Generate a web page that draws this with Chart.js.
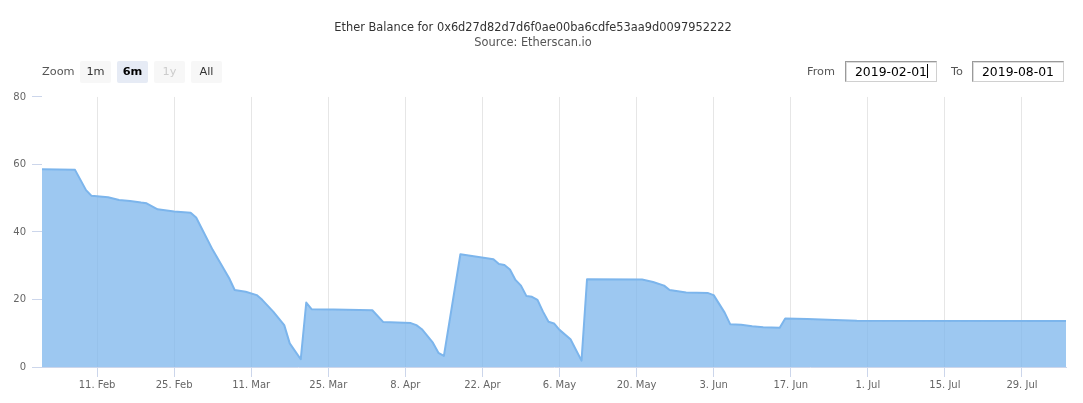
<!DOCTYPE html>
<html>
<head>
<meta charset="utf-8">
<script src="https://cdn.jsdelivr.net/npm/chart.js@4.4.1/dist/chart.umd.min.js"></script>
<style>
html,body{margin:0;padding:0;background:#fff;}
#wrap{position:relative;width:1083px;height:403px;overflow:hidden;font-family:"DejaVu Sans",Verdana,sans-serif;}
#c{position:absolute;left:0;top:0;}
.lbl{position:absolute;top:61px;height:22px;line-height:22px;font-size:11.3px;color:#555;}
.btn{position:absolute;top:61px;height:22px;width:31px;background:#f7f7f7;border-radius:2px;text-align:center;line-height:22px;font-size:11.3px;color:#333;}
.sel{background:#e6ebf5;color:#000;font-weight:bold;}
.dis{color:#ccc;}
.inp{position:absolute;top:61px;height:19px;width:90px;border:1px solid #9a9a9a;border-right-color:#d0d0d0;border-bottom-color:#d0d0d0;box-shadow:inset 1px 1px 0 #dcdcdc;background:#fff;text-align:center;line-height:19px;font-size:12.4px;color:#000;}
.caret{position:absolute;width:1px;height:14px;background:#000;}
</style>
</head>
<body>
<div id="wrap">
<canvas id="c" width="1083" height="403"></canvas>
<div class="lbl" style="left:42px;">Zoom</div>
<div class="btn" style="left:80px;">1m</div>
<div class="btn sel" style="left:117px;">6m</div>
<div class="btn dis" style="left:154px;">1y</div>
<div class="btn" style="left:191px;">All</div>
<div class="lbl" style="left:807px;">From</div>
<div class="inp" style="left:845px;">2019-02-01</div>
<div class="caret" style="left:927px;top:64px;"></div>
<div class="lbl" style="left:951px;">To</div>
<div class="inp" style="left:972px;">2019-08-01</div>
</div>
<script>
// ---- data ----
const startDate = "2019-02-01";
const dates = [
"2019-02-01","2019-02-07","2019-02-09","2019-02-10","2019-02-13","2019-02-15","2019-02-17","2019-02-19","2019-02-20","2019-02-22","2019-02-25","2019-02-28",
"2019-03-01","2019-03-04","2019-03-07","2019-03-08","2019-03-10","2019-03-12","2019-03-13","2019-03-15","2019-03-17","2019-03-18","2019-03-20","2019-03-21","2019-03-22","2019-03-26",
"2019-04-02","2019-04-04","2019-04-09","2019-04-10","2019-04-11","2019-04-13","2019-04-14","2019-04-15","2019-04-18","2019-04-24","2019-04-25","2019-04-26","2019-04-27","2019-04-28","2019-04-29","2019-04-30",
"2019-05-01","2019-05-02","2019-05-03","2019-05-04","2019-05-05","2019-05-06","2019-05-08","2019-05-10","2019-05-11","2019-05-21","2019-05-23","2019-05-25","2019-05-26","2019-05-29",
"2019-06-02","2019-06-03","2019-06-05","2019-06-06","2019-06-08","2019-06-10","2019-06-12","2019-06-15","2019-06-16","2019-06-20","2019-06-25","2019-06-29",
"2019-08-06"];
const balances = [
58.6,58.4,52.4,50.7,50.3,49.5,49.2,48.7,48.5,46.7,46.1,45.7,
44.3,34.7,26.3,22.8,22.3,21.3,19.9,16.4,12.4,7.0,2.3,19.1,17.1,17.0,
16.8,13.3,13.0,12.4,11.2,7.2,4.2,3.3,33.4,31.9,30.5,30.2,28.9,25.8,24.1,21.0,
20.8,19.9,16.4,13.4,12.9,11.0,8.2,1.9,26.0,25.9,25.2,24.1,22.8,22.1,
21.9,21.3,16.1,12.7,12.5,12.1,11.8,11.6,14.4,14.2,13.9,13.7,
13.6];
const tickDates = ["2019-02-11","2019-02-25","2019-03-11","2019-03-25","2019-04-08","2019-04-22","2019-05-06","2019-05-20","2019-06-03","2019-06-17","2019-07-01","2019-07-15","2019-07-29"];
const yTicks = [0,20,40,60,80];
const monthNames = ["Jan","Feb","Mar","Apr","May","Jun","Jul","Aug","Sep","Oct","Nov","Dec"];
const titleText = "Ether Balance for 0x6d27d82d7d6f0ae00ba6cdfe53aa9d0097952222";
const subtitleText = "Source: Etherscan.io";

// ---- helpers ----
const DAY = 86400000;
const t0 = Date.parse(startDate + "T00:00:00Z");
const toDay = s => (Date.parse(s + "T00:00:00Z") - t0) / DAY;
const fmt = v => { const d = new Date(t0 + v * DAY); return d.getUTCDate() + ". " + monthNames[d.getUTCMonth()]; };
const points = dates.map((d, i) => ({x: toDay(d), y: balances[i]}));
const tickDays = tickDates.map(toDay);
const FONT = "'DejaVu Sans', Verdana, sans-serif";

new Chart(document.getElementById('c'), {
  type: 'line',
  data: {
    datasets: [{
      data: points,
      borderColor: '#7cb5ec',
      backgroundColor: 'rgba(124,181,236,0.75)',
      borderWidth: 2,
      fill: 'origin',
      pointRadius: 0,
      tension: 0,
      borderJoinStyle: 'round'
    }]
  },
  options: {
    responsive: false,
    animation: false,
    events: [],
    layout: {padding: {left: 0, right: 17, top: 0, bottom: 0}},
    plugins: {
      legend: {display: false},
      tooltip: {enabled: false},
      title: {display: true, text: titleText, color: '#333333', font: {family: FONT, size: 11.4, weight: 'normal'}, padding: {top: 21.5, bottom: 0}},
      subtitle: {display: true, text: subtitleText, color: '#555555', font: {family: FONT, size: 11.4, weight: 'normal'}, padding: {top: 1.5, bottom: 46.6}}
    },
    scales: {
      x: {
        type: 'linear',
        min: 0,
        max: points[points.length - 1].x,
        afterBuildTicks: s => { s.ticks = tickDays.map(v => ({value: v})); },
        afterFit: s => { s.height = 36; },
        ticks: {autoSkip: false, maxRotation: 0, padding: 2, color: '#666666', font: {family: FONT, size: 10}, callback: v => fmt(v)},
        grid: {color: '#e6e6e6', tickColor: '#ccd6eb', tickLength: 10, drawOnChartArea: true},
        border: {display: true, color: '#ccd6eb', width: 1}
      },
      y: {
        min: 0,
        max: 80,
        afterBuildTicks: s => { s.ticks = yTicks.map(v => ({value: v})); },
        afterFit: s => { s.width = 42; },
        ticks: {padding: 6, color: '#666666', font: {family: FONT, size: 10}},
        grid: {drawOnChartArea: false, color: '#ccd6eb', tickColor: '#ccd6eb', tickLength: 10},
        border: {display: false}
      }
    }
  }
});
</script>
</body>
</html>
